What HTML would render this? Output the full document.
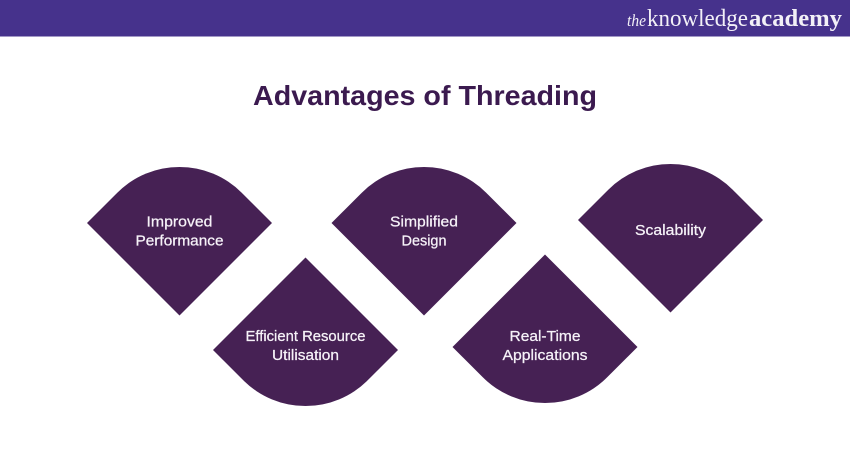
<!DOCTYPE html>
<html>
<head>
<meta charset="utf-8">
<style>
html,body{margin:0;padding:0;background:#fff;width:850px;height:450px;overflow:hidden}
svg{display:block}
text{font-family:"Liberation Sans",sans-serif}
.l{fill:#f6f2f8;font-size:14.5px;text-anchor:middle;font-weight:normal;stroke:#f6f2f8;stroke-width:.25px}
.g{font-family:"Liberation Serif",serif;fill:#f2f0f7}
</style>
</head>
<body>
<svg width="850" height="450" viewBox="0 0 850 450" xmlns="http://www.w3.org/2000/svg">
<defs>
<path id="s" d="M-92.5,0 L-62.2,-30.3 A88,88 0 0 1 62.2,-30.3 L92.5,0 L0,92.5 Z"/>
</defs>
<rect width="850" height="36.5" fill="#46328c"/>
<text class="g" x="627" y="26" font-size="17" font-style="italic" textLength="19" lengthAdjust="spacingAndGlyphs">the</text>
<text class="g" x="647" y="26" font-size="24" textLength="101" lengthAdjust="spacingAndGlyphs">knowledge</text>
<text class="g" x="749" y="26" font-size="24" font-weight="bold" textLength="93" lengthAdjust="spacingAndGlyphs">academy</text>

<text x="253" y="105" font-size="28" font-weight="bold" fill="#3b1a4f" textLength="344" lengthAdjust="spacingAndGlyphs">Advantages of Threading</text>

<g fill="#462154">
<use href="#s" transform="translate(179.5,223)"/>
<use href="#s" transform="translate(305.5,350) scale(1,-1)"/>
<use href="#s" transform="translate(424,223)"/>
<use href="#s" transform="translate(545,347) scale(1,-1)"/>
<use href="#s" transform="translate(670.5,220)"/>
</g>

<text class="l" x="179.5" y="226.5" textLength="66" lengthAdjust="spacingAndGlyphs">Improved</text>
<text class="l" x="179.5" y="245.5" textLength="88" lengthAdjust="spacingAndGlyphs">Performance</text>
<text class="l" x="305.5" y="341" textLength="120" lengthAdjust="spacingAndGlyphs">Efficient Resource</text>
<text class="l" x="305.5" y="360" textLength="67" lengthAdjust="spacingAndGlyphs">Utilisation</text>
<text class="l" x="424" y="226.5" textLength="68" lengthAdjust="spacingAndGlyphs">Simplified</text>
<text class="l" x="424" y="245.5" textLength="45" lengthAdjust="spacingAndGlyphs">Design</text>
<text class="l" x="545" y="341" textLength="71" lengthAdjust="spacingAndGlyphs">Real-Time</text>
<text class="l" x="545" y="360" textLength="85" lengthAdjust="spacingAndGlyphs">Applications</text>
<text class="l" x="670.5" y="235" textLength="71" lengthAdjust="spacingAndGlyphs">Scalability</text>
</svg>
</body>
</html>
